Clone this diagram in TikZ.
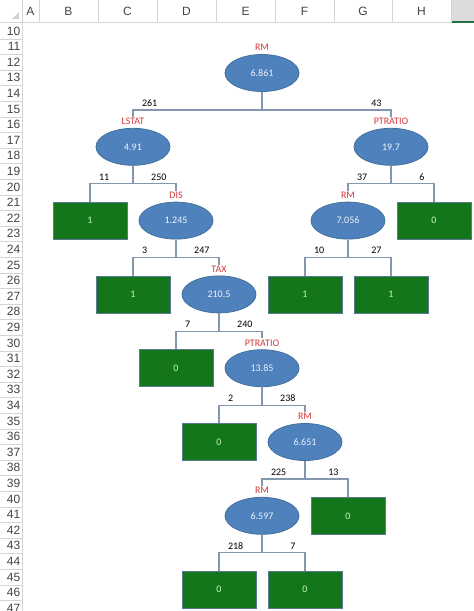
\documentclass[tikz,border=0pt]{standalone}
\usepackage{fontspec}
\setmainfont{Carlito}
\newfontfamily\hdrfont{Liberation Sans}
\usetikzlibrary{shapes.geometric}
\definecolor{ellfill}{HTML}{4F81BD}
\definecolor{elldraw}{HTML}{41719C}
\definecolor{elltext}{HTML}{EEF3FA}
\definecolor{boxfill}{HTML}{14761A}
\definecolor{boxdraw}{HTML}{5A7A94}
\definecolor{boxtext}{HTML}{C8F5C0}
\definecolor{labred}{HTML}{D2393F}
\definecolor{conncol}{HTML}{8497B0}
\definecolor{gridc}{HTML}{D4D4D4}
\definecolor{hdrtext}{HTML}{444444}
\definecolor{selgray}{HTML}{DCDCDC}
\definecolor{selgreen}{HTML}{217346}
\newcommand\treefont{\fontsize{10}{12}\selectfont}
\begin{document}
\begin{tikzpicture}[x=1pt,y=-1pt,
  ell/.style={ellipse, draw=elldraw, line width=0.8pt, fill=ellfill, minimum width=74pt, minimum height=37pt, inner sep=0pt, text=elltext, font=\treefont},
  leaf/.style={rectangle, draw=boxdraw, line width=0.8pt, fill=boxfill, minimum width=74pt, minimum height=37pt, inner sep=0pt, text=boxtext, font=\treefont},
  lab/.style={text=labred, font=\treefont, inner sep=1pt, above=2pt},
  conn/.style={draw=conncol, line width=1.2pt},
  numL/.style={font=\treefont, inner sep=0pt, anchor=south west, xshift=8.5pt, yshift=3pt},
  numR/.style={font=\treefont, inner sep=0pt, anchor=south east, xshift=-9pt, yshift=3pt},
  hdr/.style={font=\hdrfont\fontsize{12}{14}\selectfont, text=hdrtext, inner sep=0pt},
  gridl/.style={draw=gridc, line width=0.6pt}]
\fill[white] (0,0) rectangle (474,611);
\useasboundingbox (0,0) rectangle (474,611);
% ---- spreadsheet headers
\fill[selgray] (451,0) rectangle (474,22);
\draw[selgreen, line width=2pt] (451,22) -- (474,22);
\draw[gridl] (0,22.5) -- (451,22.5);
\draw[gridl] (22.5,0) -- (22.5,611);
\foreach \x in {39,98,157,216,275,334,392,451} \draw[gridl] (\x,0) -- (\x,22.5);
\fill[gray!35] (12,19) -- (19,19) -- (19,12) -- cycle;
\foreach \c/\x in {A/30.5,B/68.5,C/127.5,D/186.5,E/245.5,F/304.5,G/363,H/421.5}
  \node[hdr] (col\c) at (\x,11.5) {\c};
\foreach \r [count=\i from 0] in {10,...,47} {
  \draw[gridl] (0,{23.2+15.6*(\i+1)}) -- (22.5,{23.2+15.6*(\i+1)});
  \node[hdr, anchor=east] (row\r) at (20.5,{31+15.6*\i}) {\r};
}
% ---- tree nodes
\node[ell] (r) at (262,73) {6.861};
\node[lab] (rl) at (r.north) {RM};
\node[ell] (a) at (133,146.8) {4.91};
\node[lab] (al) at (a.north) {LSTAT};
\node[ell] (b) at (391,146.8) {19.7};
\node[lab] (bl) at (b.north) {PTRATIO};
\node[leaf] (a1) at (90,220.6) {1};
\node[ell] (a2) at (176,220.6) {1.245};
\node[lab] (a2l) at (a2.north) {DIS};
\node[ell] (b1) at (348,220.6) {7.056};
\node[lab] (b1l) at (b1.north) {RM};
\node[leaf] (b2) at (434,220.6) {0};
\node[leaf] (c1) at (133,294.4) {1};
\node[ell] (c2) at (219,294.4) {210.5};
\node[lab] (c2l) at (c2.north) {TAX};
\node[leaf] (b11) at (305,294.4) {1};
\node[leaf] (b12) at (391,294.4) {1};
\node[leaf] (d1) at (176,368.2) {0};
\node[ell] (d2) at (262,368.2) {13.85};
\node[lab] (d2l) at (d2.north) {PTRATIO};
\node[leaf] (e1) at (219,442) {0};
\node[ell] (e2) at (305,442) {6.651};
\node[lab] (e2l) at (e2.north) {RM};
\node[ell] (f1) at (262,515.8) {6.597};
\node[lab] (f1l) at (f1.north) {RM};
\node[leaf] (f2) at (348,515.8) {0};
\node[leaf] (g1) at (219,589.6) {0};
\node[leaf] (g2) at (305,589.6) {0};
% ---- connectors
\draw[conn] (r.south) -- ++(0,18) -| node[numL, pos=0.5] (n261) {261} (al.north);
\draw[conn] (r.south) -- ++(0,18) -| node[numR, pos=0.5] (n43) {43} (bl.north);
\draw[conn] (a.south) -- ++(0,18) -| node[numL, pos=0.5] (n11) {11} (a1.north);
\draw[conn] (a.south) -- ++(0,18) -| node[numR, pos=0.5] (n250) {250} (a2l.north);
\draw[conn] (b.south) -- ++(0,18) -| node[numL, pos=0.5] (n37) {37} (b1l.north);
\draw[conn] (b.south) -- ++(0,18) -| node[numR, pos=0.5] (n6) {6} (b2.north);
\draw[conn] (a2.south) -- ++(0,18) -| node[numL, pos=0.5] (n3) {3} (c1.north);
\draw[conn] (a2.south) -- ++(0,18) -| node[numR, pos=0.5] (n247) {247} (c2l.north);
\draw[conn] (b1.south) -- ++(0,18) -| node[numL, pos=0.5] (n10) {10} (b11.north);
\draw[conn] (b1.south) -- ++(0,18) -| node[numR, pos=0.5] (n27) {27} (b12.north);
\draw[conn] (c2.south) -- ++(0,18) -| node[numL, pos=0.5] (n7a) {7} (d1.north);
\draw[conn] (c2.south) -- ++(0,18) -| node[numR, pos=0.5] (n240) {240} (d2l.north);
\draw[conn] (d2.south) -- ++(0,18) -| node[numL, pos=0.5] (n2) {2} (e1.north);
\draw[conn] (d2.south) -- ++(0,18) -| node[numR, pos=0.5] (n238) {238} (e2l.north);
\draw[conn] (e2.south) -- ++(0,18) -| node[numL, pos=0.5] (n225) {225} (f1l.north);
\draw[conn] (e2.south) -- ++(0,18) -| node[numR, pos=0.5] (n13) {13} (f2.north);
\draw[conn] (f1.south) -- ++(0,18) -| node[numL, pos=0.5] (n218) {218} (g1.north);
\draw[conn] (f1.south) -- ++(0,18) -| node[numR, pos=0.5] (n7b) {7} (g2.north);
\end{tikzpicture}
\end{document}
